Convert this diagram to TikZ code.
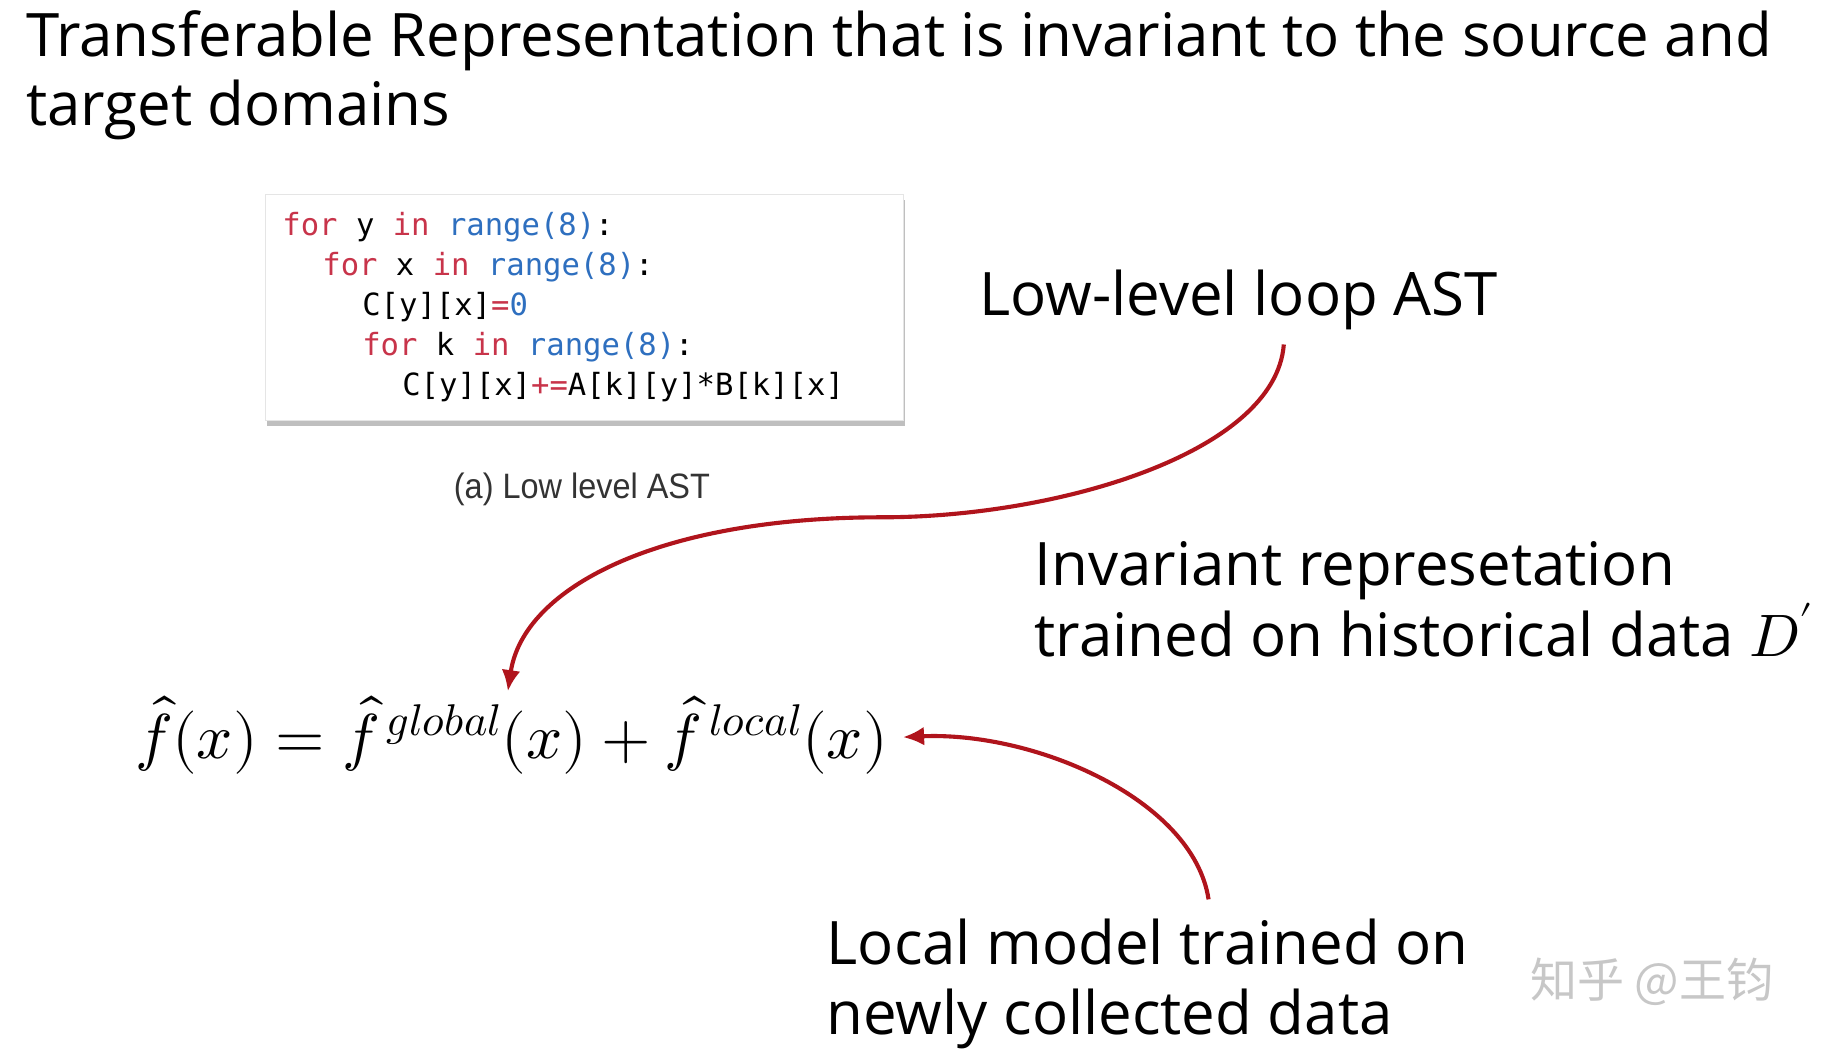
\documentclass[tikz,border=0pt]{standalone}
\usepackage{fontspec}
\usepackage{unicode-math}
\setmathfont{Latin Modern Math}
\setmainfont{Open Sans}
\newfontfamily\codefont{DejaVu Sans Mono}
\newfontfamily\capfont{Liberation Sans}
\newfontfamily\cjkfont{Noto Sans CJK SC}
\usetikzlibrary{shadows,arrows.meta}
\definecolor{kw}{HTML}{C8344A}
\definecolor{bl}{HTML}{2E6FBF}
\definecolor{arr}{HTML}{B0141C}
\begin{document}
\begin{tikzpicture}[x=1pt,y=-1pt,
  big/.style={anchor=base west,inner sep=0pt,font=\fontsize{51}{60}\selectfont},
  cd/.style={anchor=base west,inner sep=0pt,font=\codefont\fontsize{26}{34}\selectfont},
  redarrow/.style={draw=arr,line width=3.5pt,-{Latex[length=18pt,width=16pt]}}]
\useasboundingbox[fill=white] (0,0) rectangle (1560,895);
\node[big] (title1) at (22,48) {Transferable Representation that is invariant to the source and};
\node[big] (title2) at (22,107) {target domains};
\node[draw=gray!20,fill=white,drop shadow={shadow xshift=2pt,shadow yshift=-5pt,opacity=0.5},minimum width=543pt,minimum height=192pt,anchor=north west,inner sep=0pt] (box) at (225,165) {};
\node[cd] (c1) at (240,200) {\textcolor{kw}{for} y \textcolor{kw}{in} \textcolor{bl}{range(8)}:};
\node[cd] (c2) at (274,234) {\textcolor{kw}{for} x \textcolor{kw}{in} \textcolor{bl}{range(8)}:};
\node[cd] (c3) at (308,268) {C[y][x]\textcolor{kw}{=}\textcolor{bl}{0}};
\node[cd] (c4) at (308,302) {\textcolor{kw}{for} k \textcolor{kw}{in} \textcolor{bl}{range(8)}:};
\node[cd] (c5) at (342,336) {C[y][x]\textcolor{kw}{+=}A[k][y]*B[k][x]};
\node[anchor=base,inner sep=0pt,font=\capfont\fontsize{30}{34}\selectfont,text=black!80,xscale=0.92] (cap) at (495,424) {(a) Low level AST};
\node[big] (low) at (833,268) {Low-level loop AST};
\node[big] (inv1) at (880,498) {Invariant represetation};
\node[big] (inv2) at (880,558) {trained on historical data $D^{\prime}$};
\node[big] (loc1) at (703,820) {Local model trained on};
\node[big] (loc2) at (703,880) {newly collected data};
\node[anchor=base west,inner sep=0pt,font=\fontsize{54}{58}\selectfont] (eq) at (115,645) {$\hat f(x)=\hat f^{\,global}(x)+\hat f^{\,local}(x)$};
\node[anchor=center,inner sep=0pt,font=\cjkfont\fontsize{40}{40}\selectfont,text=black!22] (wm) at (1405,835) {知乎 @王钧};
\coordinate (s1) at (1092,293);
\coordinate (m1) at (750,440);
\coordinate (e1) at (432,588);
\coordinate (s2) at (1028,765);
\coordinate (e2) at (768,627);
\draw[redarrow] (s1) .. controls (1085,385) and (900,440) .. (m1) .. controls (560,440) and (445,500) .. (e1);
\draw[redarrow] (s2) .. controls (1015,680) and (880,622) .. (e2);
\end{tikzpicture}
\end{document}
